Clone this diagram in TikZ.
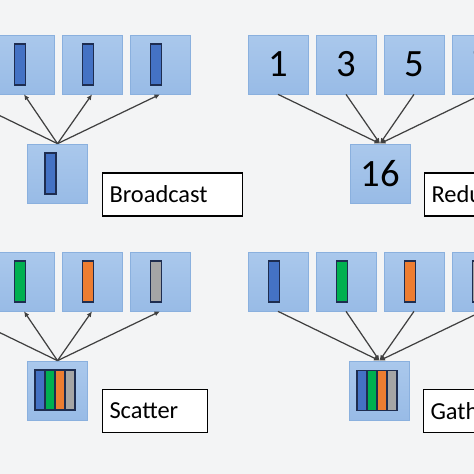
\documentclass[tikz,border=0pt]{standalone}
\usepackage{fontspec}
\setmainfont{Carlito}
\usetikzlibrary{arrows.meta}

\definecolor{bgcol}{RGB}{243,244,245}
\definecolor{celltop}{RGB}{170,200,236}
\definecolor{cellbot}{RGB}{152,187,230}
\definecolor{cellline}{RGB}{138,176,222}
\definecolor{barline}{RGB}{30,45,80}
\definecolor{barblue}{RGB}{68,114,196}
\definecolor{bargreen}{RGB}{0,176,80}
\definecolor{barorange}{RGB}{237,125,49}
\definecolor{bargray}{RGB}{165,165,165}
\definecolor{linkcol}{RGB}{64,64,64}

\begin{document}
\begin{tikzpicture}[
  x=0.02cm,y=-0.02cm,
  >={Latex[length=1.1mm,width=1mm]},
  cell/.style={draw=cellline,top color=celltop,bottom color=cellbot,minimum width=1.2cm,minimum height=1.18cm,inner sep=0pt,font=\fontsize{22}{24}\selectfont},
  bar/.style={draw=barline,line width=0.6pt,minimum width=0.22cm,minimum height=0.82cm,inner sep=0pt},
  seg/.style={draw=barline,line width=0.6pt,minimum width=0.2cm,minimum height=0.8cm,inner sep=0pt},
  tag/.style={draw,fill=white,line width=0.6pt,anchor=west,minimum height=0.86cm,inner xsep=0.14cm,inner ysep=0pt,align=left,font=\fontsize{13.9}{15}\selectfont},
  link/.style={draw=linkcol,line width=0.7pt}
]
\clip (0,0) rectangle (474,474);
\fill[bgcol] (0,0) rectangle (474,474);

% broadcast
\foreach \n/\x in {b0/-44,b1/24,b2/92,b3/160}{
  \node[cell] (\n) at (\x,64.5) {};
  \node[bar,fill=barblue] (\n x) at (\x-4,64.5) {};
}
\node[cell] (bsrc) at (57.5,173.5) {};
\node[bar,fill=barblue] (bsrcx) at (50.5,173.5) {};
\node[tag,text width=2.52cm] (btag) at (102,194.5) {Broadcast};
\foreach \n in {b0,b1,b2,b3}
  \draw[link,->] (bsrc.north) -- (\n.south);

% reduce
\foreach \n/\x/\v in {r0/278/1,r1/346/3,r2/414/5,r3/482/7}
  \node[cell,text width=1.14cm,align=center] (\n) at (\x,64.5) {\v};
\node[cell] (rdst) at (380,173.5) {16};
\node[tag,text width=2.52cm] (rtag) at (424,194.5) {Reduce};
\foreach \n in {r0,r1,r2,r3}
  \draw[link,->] (\n.south) -- (rdst.north);

% scatter
\foreach \n/\x/\c in {s0/-44/barblue,s1/24/bargreen,s2/92/barorange,s3/160/bargray}{
  \node[cell] (\n) at (\x,281.5) {};
  \node[bar,fill=\c] (\n x) at (\x-4,281.5) {};
}
\node[cell] (ssrc) at (57.5,390.5) {};
\foreach \c [count=\i from 0] in {barblue,bargreen,barorange,bargray}
  \node[seg,fill=\c] (ssrc\i) at (40+10*\i,390) {};
\node[tag,text width=1.82cm] (stag) at (102,411) {Scatter};
\foreach \n in {s0,s1,s2,s3}
  \draw[link,->] (ssrc.north) -- (\n.south);

% gather
\foreach \n/\x/\c in {g0/278/barblue,g1/346/bargreen,g2/414/barorange,g3/482/bargray}{
  \node[cell] (\n) at (\x,281.5) {};
  \node[bar,fill=\c] (\n x) at (\x-4,281.5) {};
}
\node[cell] (gdst) at (379.5,390.5) {};
\foreach \c [count=\i from 0] in {barblue,bargreen,barorange,bargray}
  \node[seg,fill=\c] (gdst\i) at (362+10*\i,390.5) {};
\node[tag,text width=1.82cm] (gtag) at (423,411) {Gather};
\foreach \n in {g0,g1,g2,g3}
  \draw[link,->] (\n.south) -- (gdst.north);
\end{tikzpicture}
\end{document}
